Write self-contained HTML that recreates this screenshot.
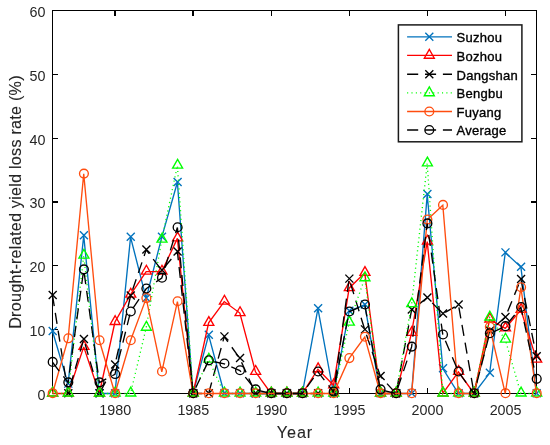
<!DOCTYPE html><html><head><meta charset="utf-8"><style>html,body{margin:0;padding:0;background:#fff;}svg{display:block;}text{font-family:"Liberation Sans",Arial,sans-serif;}</style></head><body>
<svg width="550" height="445" viewBox="0 0 550 445">
<rect width="550" height="445" fill="#fff"/>
<g stroke="#000" stroke-width="1.15" fill="none" shape-rendering="crispEdges">
<rect x="52.50" y="10.50" width="484.00" height="383.00"/>
<path d="M114.95 393.50V388.20M114.95 10.50V15.80"/>
<path d="M193.02 393.50V388.20M193.02 10.50V15.80"/>
<path d="M271.08 393.50V388.20M271.08 10.50V15.80"/>
<path d="M349.15 393.50V388.20M349.15 10.50V15.80"/>
<path d="M427.21 393.50V388.20M427.21 10.50V15.80"/>
<path d="M505.27 393.50V388.20M505.27 10.50V15.80"/>
<path d="M52.50 393.50H57.80M536.50 393.50H531.20"/>
<path d="M52.50 329.67H57.80M536.50 329.67H531.20"/>
<path d="M52.50 265.83H57.80M536.50 265.83H531.20"/>
<path d="M52.50 202.00H57.80M536.50 202.00H531.20"/>
<path d="M52.50 138.17H57.80M536.50 138.17H531.20"/>
<path d="M52.50 74.33H57.80M536.50 74.33H531.20"/>
<path d="M52.50 10.50H57.80M536.50 10.50H531.20"/>
</g>
<polyline points="52.50,331.26 68.11,383.93 83.73,235.51 99.34,393.50 114.95,393.50 130.56,237.11 146.18,298.39 161.79,237.11 177.40,182.21 193.02,393.50 208.63,335.09 224.24,393.50 239.85,393.50 255.47,393.50 271.08,393.50 286.69,393.50 302.31,393.50 317.92,308.60 333.53,393.50 349.15,311.15 364.76,304.77 380.37,393.50 395.98,393.50 411.60,393.50 427.21,194.34 442.82,368.61 458.44,393.50 474.05,393.50 489.66,373.07 505.27,252.68 520.89,267.11 536.50,393.50" fill="none" stroke="#0072BD" stroke-width="1.35" stroke-linejoin="miter" stroke-miterlimit="3"/>
<g fill="none" stroke-width="1.35" stroke-linejoin="miter">
<path d="M48.70 326.96L56.70 334.96M48.70 334.96L56.70 326.96" stroke="#0072BD"/>
<path d="M64.31 379.62L72.31 387.62M64.31 387.62L72.31 379.62" stroke="#0072BD"/>
<path d="M79.93 231.21L87.93 239.21M79.93 239.21L87.93 231.21" stroke="#0072BD"/>
<path d="M95.54 389.20L103.54 397.20M95.54 397.20L103.54 389.20" stroke="#0072BD"/>
<path d="M111.15 389.20L119.15 397.20M111.15 397.20L119.15 389.20" stroke="#0072BD"/>
<path d="M126.76 232.81L134.76 240.81M126.76 240.81L134.76 232.81" stroke="#0072BD"/>
<path d="M142.38 294.09L150.38 302.09M142.38 302.09L150.38 294.09" stroke="#0072BD"/>
<path d="M157.99 232.81L165.99 240.81M157.99 240.81L165.99 232.81" stroke="#0072BD"/>
<path d="M173.60 177.91L181.60 185.91M173.60 185.91L181.60 177.91" stroke="#0072BD"/>
<path d="M189.22 389.20L197.22 397.20M189.22 397.20L197.22 389.20" stroke="#0072BD"/>
<path d="M204.83 330.79L212.83 338.79M204.83 338.79L212.83 330.79" stroke="#0072BD"/>
<path d="M220.44 389.20L228.44 397.20M220.44 397.20L228.44 389.20" stroke="#0072BD"/>
<path d="M236.05 389.20L244.05 397.20M236.05 397.20L244.05 389.20" stroke="#0072BD"/>
<path d="M251.67 389.20L259.67 397.20M251.67 397.20L259.67 389.20" stroke="#0072BD"/>
<path d="M267.28 389.20L275.28 397.20M267.28 397.20L275.28 389.20" stroke="#0072BD"/>
<path d="M282.89 389.20L290.89 397.20M282.89 397.20L290.89 389.20" stroke="#0072BD"/>
<path d="M298.51 389.20L306.51 397.20M298.51 397.20L306.51 389.20" stroke="#0072BD"/>
<path d="M314.12 304.30L322.12 312.30M314.12 312.30L322.12 304.30" stroke="#0072BD"/>
<path d="M329.73 389.20L337.73 397.20M329.73 397.20L337.73 389.20" stroke="#0072BD"/>
<path d="M345.35 306.85L353.35 314.85M345.35 314.85L353.35 306.85" stroke="#0072BD"/>
<path d="M360.96 300.47L368.96 308.47M360.96 308.47L368.96 300.47" stroke="#0072BD"/>
<path d="M376.57 389.20L384.57 397.20M376.57 397.20L384.57 389.20" stroke="#0072BD"/>
<path d="M392.18 389.20L400.18 397.20M392.18 397.20L400.18 389.20" stroke="#0072BD"/>
<path d="M407.80 389.20L415.80 397.20M407.80 397.20L415.80 389.20" stroke="#0072BD"/>
<path d="M423.41 190.04L431.41 198.04M423.41 198.04L431.41 190.04" stroke="#0072BD"/>
<path d="M439.02 364.31L447.02 372.31M439.02 372.31L447.02 364.31" stroke="#0072BD"/>
<path d="M454.64 389.20L462.64 397.20M454.64 397.20L462.64 389.20" stroke="#0072BD"/>
<path d="M470.25 389.20L478.25 397.20M470.25 397.20L478.25 389.20" stroke="#0072BD"/>
<path d="M485.86 368.77L493.86 376.77M485.86 376.77L493.86 368.77" stroke="#0072BD"/>
<path d="M501.47 248.38L509.47 256.38M501.47 256.38L509.47 248.38" stroke="#0072BD"/>
<path d="M517.09 262.81L525.09 270.81M517.09 270.81L525.09 262.81" stroke="#0072BD"/>
<path d="M532.70 389.20L540.70 397.20M532.70 397.20L540.70 389.20" stroke="#0072BD"/>
</g>
<polyline points="52.50,393.50 68.11,393.50 83.73,346.90 99.34,393.50 114.95,322.01 130.56,294.56 146.18,271.58 161.79,271.58 177.40,238.39 193.02,393.50 208.63,322.90 224.24,301.58 239.85,313.07 255.47,371.80 271.08,393.50 286.69,393.50 302.31,393.50 317.92,369.24 333.53,385.20 349.15,288.18 364.76,272.86 380.37,393.50 395.98,393.50 411.60,332.86 427.21,241.58 442.82,393.50 458.44,371.80 474.05,393.50 489.66,319.45 505.27,328.39 520.89,309.88 536.50,359.67" fill="none" stroke="#FF0000" stroke-width="1.35" stroke-linejoin="miter" stroke-miterlimit="3"/>
<g fill="none" stroke-width="1.35" stroke-linejoin="miter">
<path d="M52.70 387.20L57.70 396.00L47.70 396.00Z" stroke="#FF0000"/>
<path d="M68.31 387.20L73.31 396.00L63.31 396.00Z" stroke="#FF0000"/>
<path d="M83.93 340.60L88.93 349.40L78.93 349.40Z" stroke="#FF0000"/>
<path d="M99.54 387.20L104.54 396.00L94.54 396.00Z" stroke="#FF0000"/>
<path d="M115.15 315.71L120.15 324.51L110.15 324.51Z" stroke="#FF0000"/>
<path d="M130.76 288.26L135.76 297.06L125.76 297.06Z" stroke="#FF0000"/>
<path d="M146.38 265.28L151.38 274.08L141.38 274.08Z" stroke="#FF0000"/>
<path d="M161.99 265.28L166.99 274.08L156.99 274.08Z" stroke="#FF0000"/>
<path d="M177.60 232.09L182.60 240.89L172.60 240.89Z" stroke="#FF0000"/>
<path d="M193.22 387.20L198.22 396.00L188.22 396.00Z" stroke="#FF0000"/>
<path d="M208.83 316.60L213.83 325.40L203.83 325.40Z" stroke="#FF0000"/>
<path d="M224.44 295.28L229.44 304.08L219.44 304.08Z" stroke="#FF0000"/>
<path d="M240.05 306.77L245.05 315.57L235.05 315.57Z" stroke="#FF0000"/>
<path d="M255.67 365.50L260.67 374.30L250.67 374.30Z" stroke="#FF0000"/>
<path d="M271.28 387.20L276.28 396.00L266.28 396.00Z" stroke="#FF0000"/>
<path d="M286.89 387.20L291.89 396.00L281.89 396.00Z" stroke="#FF0000"/>
<path d="M302.51 387.20L307.51 396.00L297.51 396.00Z" stroke="#FF0000"/>
<path d="M318.12 362.94L323.12 371.74L313.12 371.74Z" stroke="#FF0000"/>
<path d="M333.73 378.90L338.73 387.70L328.73 387.70Z" stroke="#FF0000"/>
<path d="M349.35 281.88L354.35 290.68L344.35 290.68Z" stroke="#FF0000"/>
<path d="M364.96 266.56L369.96 275.36L359.96 275.36Z" stroke="#FF0000"/>
<path d="M380.57 387.20L385.57 396.00L375.57 396.00Z" stroke="#FF0000"/>
<path d="M396.18 387.20L401.18 396.00L391.18 396.00Z" stroke="#FF0000"/>
<path d="M411.80 326.56L416.80 335.36L406.80 335.36Z" stroke="#FF0000"/>
<path d="M427.41 235.28L432.41 244.08L422.41 244.08Z" stroke="#FF0000"/>
<path d="M443.02 387.20L448.02 396.00L438.02 396.00Z" stroke="#FF0000"/>
<path d="M458.64 365.50L463.64 374.30L453.64 374.30Z" stroke="#FF0000"/>
<path d="M474.25 387.20L479.25 396.00L469.25 396.00Z" stroke="#FF0000"/>
<path d="M489.86 313.15L494.86 321.95L484.86 321.95Z" stroke="#FF0000"/>
<path d="M505.47 322.09L510.47 330.89L500.47 330.89Z" stroke="#FF0000"/>
<path d="M521.09 303.58L526.09 312.38L516.09 312.38Z" stroke="#FF0000"/>
<path d="M536.70 353.37L541.70 362.17L531.70 362.17Z" stroke="#FF0000"/>
</g>
<polyline points="52.50,295.20 68.11,393.50 83.73,339.24 99.34,393.50 114.95,364.77 130.56,295.83 146.18,249.88 161.79,270.30 177.40,251.79 193.02,393.50 208.63,393.50 224.24,336.69 239.85,358.39 255.47,393.50 271.08,393.50 286.69,393.50 302.31,393.50 317.92,393.50 333.53,393.50 349.15,278.92 364.76,329.67 380.37,376.26 395.98,393.50 411.60,309.88 427.21,297.75 442.82,313.71 458.44,304.77 474.05,393.50 489.66,330.94 505.27,317.22 520.89,279.24 536.50,356.48" fill="none" stroke="#000000" stroke-width="1.35" stroke-dasharray="11.1 6.8" stroke-linejoin="miter" stroke-miterlimit="3"/>
<g fill="none" stroke-width="1.35" stroke-linejoin="miter">
<path d="M48.70 290.90L56.70 298.90M48.70 298.90L56.70 290.90" stroke="#000000"/>
<path d="M64.31 389.20L72.31 397.20M64.31 397.20L72.31 389.20" stroke="#000000"/>
<path d="M79.93 334.94L87.93 342.94M79.93 342.94L87.93 334.94" stroke="#000000"/>
<path d="M95.54 389.20L103.54 397.20M95.54 397.20L103.54 389.20" stroke="#000000"/>
<path d="M111.15 360.47L119.15 368.47M111.15 368.47L119.15 360.47" stroke="#000000"/>
<path d="M126.76 291.53L134.76 299.53M126.76 299.53L134.76 291.53" stroke="#000000"/>
<path d="M142.38 245.57L150.38 253.57M142.38 253.57L150.38 245.57" stroke="#000000"/>
<path d="M157.99 266.00L165.99 274.00M157.99 274.00L165.99 266.00" stroke="#000000"/>
<path d="M173.60 247.49L181.60 255.49M173.60 255.49L181.60 247.49" stroke="#000000"/>
<path d="M189.22 389.20L197.22 397.20M189.22 397.20L197.22 389.20" stroke="#000000"/>
<path d="M204.83 389.20L212.83 397.20M204.83 397.20L212.83 389.20" stroke="#000000"/>
<path d="M220.44 332.39L228.44 340.39M220.44 340.39L228.44 332.39" stroke="#000000"/>
<path d="M236.05 354.09L244.05 362.09M236.05 362.09L244.05 354.09" stroke="#000000"/>
<path d="M251.67 389.20L259.67 397.20M251.67 397.20L259.67 389.20" stroke="#000000"/>
<path d="M267.28 389.20L275.28 397.20M267.28 397.20L275.28 389.20" stroke="#000000"/>
<path d="M282.89 389.20L290.89 397.20M282.89 397.20L290.89 389.20" stroke="#000000"/>
<path d="M298.51 389.20L306.51 397.20M298.51 397.20L306.51 389.20" stroke="#000000"/>
<path d="M314.12 389.20L322.12 397.20M314.12 397.20L322.12 389.20" stroke="#000000"/>
<path d="M329.73 389.20L337.73 397.20M329.73 397.20L337.73 389.20" stroke="#000000"/>
<path d="M345.35 274.62L353.35 282.62M345.35 282.62L353.35 274.62" stroke="#000000"/>
<path d="M360.96 325.37L368.96 333.37M360.96 333.37L368.96 325.37" stroke="#000000"/>
<path d="M376.57 371.96L384.57 379.96M376.57 379.96L384.57 371.96" stroke="#000000"/>
<path d="M392.18 389.20L400.18 397.20M392.18 397.20L400.18 389.20" stroke="#000000"/>
<path d="M407.80 305.58L415.80 313.58M407.80 313.58L415.80 305.58" stroke="#000000"/>
<path d="M423.41 293.45L431.41 301.45M423.41 301.45L431.41 293.45" stroke="#000000"/>
<path d="M439.02 309.41L447.02 317.41M439.02 317.41L447.02 309.41" stroke="#000000"/>
<path d="M454.64 300.47L462.64 308.47M454.64 308.47L462.64 300.47" stroke="#000000"/>
<path d="M470.25 389.20L478.25 397.20M470.25 397.20L478.25 389.20" stroke="#000000"/>
<path d="M485.86 326.64L493.86 334.64M485.86 334.64L493.86 326.64" stroke="#000000"/>
<path d="M501.47 312.92L509.47 320.92M501.47 320.92L509.47 312.92" stroke="#000000"/>
<path d="M517.09 274.94L525.09 282.94M517.09 282.94L525.09 274.94" stroke="#000000"/>
<path d="M532.70 352.18L540.70 360.18M532.70 360.18L540.70 352.18" stroke="#000000"/>
</g>
<polyline points="52.50,393.50 68.11,393.50 83.73,255.62 99.34,393.50 114.95,393.50 130.56,393.50 146.18,327.75 161.79,239.66 177.40,165.61 193.02,393.50 208.63,359.67 224.24,393.50 239.85,393.50 255.47,393.50 271.08,393.50 286.69,393.50 302.31,393.50 317.92,393.50 333.53,393.50 349.15,322.64 364.76,278.22 380.37,393.50 395.98,393.50 411.60,304.13 427.21,163.38 442.82,393.50 458.44,393.50 474.05,393.50 489.66,317.54 505.27,339.56 520.89,393.50 536.50,393.50" fill="none" stroke="#00FF00" stroke-width="1.35" stroke-dasharray="1.1 3.26" stroke-linejoin="miter" stroke-miterlimit="3"/>
<g fill="none" stroke-width="1.35" stroke-linejoin="miter">
<path d="M52.70 387.20L57.70 396.00L47.70 396.00Z" stroke="#00FF00"/>
<path d="M68.31 387.20L73.31 396.00L63.31 396.00Z" stroke="#00FF00"/>
<path d="M83.93 249.32L88.93 258.12L78.93 258.12Z" stroke="#00FF00"/>
<path d="M99.54 387.20L104.54 396.00L94.54 396.00Z" stroke="#00FF00"/>
<path d="M115.15 387.20L120.15 396.00L110.15 396.00Z" stroke="#00FF00"/>
<path d="M130.76 387.20L135.76 396.00L125.76 396.00Z" stroke="#00FF00"/>
<path d="M146.38 321.45L151.38 330.25L141.38 330.25Z" stroke="#00FF00"/>
<path d="M161.99 233.36L166.99 242.16L156.99 242.16Z" stroke="#00FF00"/>
<path d="M177.60 159.31L182.60 168.11L172.60 168.11Z" stroke="#00FF00"/>
<path d="M193.22 387.20L198.22 396.00L188.22 396.00Z" stroke="#00FF00"/>
<path d="M208.83 353.37L213.83 362.17L203.83 362.17Z" stroke="#00FF00"/>
<path d="M224.44 387.20L229.44 396.00L219.44 396.00Z" stroke="#00FF00"/>
<path d="M240.05 387.20L245.05 396.00L235.05 396.00Z" stroke="#00FF00"/>
<path d="M255.67 387.20L260.67 396.00L250.67 396.00Z" stroke="#00FF00"/>
<path d="M271.28 387.20L276.28 396.00L266.28 396.00Z" stroke="#00FF00"/>
<path d="M286.89 387.20L291.89 396.00L281.89 396.00Z" stroke="#00FF00"/>
<path d="M302.51 387.20L307.51 396.00L297.51 396.00Z" stroke="#00FF00"/>
<path d="M318.12 387.20L323.12 396.00L313.12 396.00Z" stroke="#00FF00"/>
<path d="M333.73 387.20L338.73 396.00L328.73 396.00Z" stroke="#00FF00"/>
<path d="M349.35 316.34L354.35 325.14L344.35 325.14Z" stroke="#00FF00"/>
<path d="M364.96 271.92L369.96 280.72L359.96 280.72Z" stroke="#00FF00"/>
<path d="M380.57 387.20L385.57 396.00L375.57 396.00Z" stroke="#00FF00"/>
<path d="M396.18 387.20L401.18 396.00L391.18 396.00Z" stroke="#00FF00"/>
<path d="M411.80 297.83L416.80 306.63L406.80 306.63Z" stroke="#00FF00"/>
<path d="M427.41 157.08L432.41 165.88L422.41 165.88Z" stroke="#00FF00"/>
<path d="M443.02 387.20L448.02 396.00L438.02 396.00Z" stroke="#00FF00"/>
<path d="M458.64 387.20L463.64 396.00L453.64 396.00Z" stroke="#00FF00"/>
<path d="M474.25 387.20L479.25 396.00L469.25 396.00Z" stroke="#00FF00"/>
<path d="M489.86 311.24L494.86 320.04L484.86 320.04Z" stroke="#00FF00"/>
<path d="M505.47 333.26L510.47 342.06L500.47 342.06Z" stroke="#00FF00"/>
<path d="M521.09 387.20L526.09 396.00L516.09 396.00Z" stroke="#00FF00"/>
<path d="M536.70 387.20L541.70 396.00L531.70 396.00Z" stroke="#00FF00"/>
</g>
<polyline points="52.50,393.50 68.11,338.60 83.73,173.91 99.34,340.52 114.95,393.50 130.56,340.52 146.18,298.39 161.79,371.80 177.40,301.58 193.02,393.50 208.63,393.50 224.24,393.50 239.85,393.50 255.47,393.50 271.08,393.50 286.69,393.50 302.31,393.50 317.92,393.50 333.53,393.50 349.15,358.39 364.76,337.01 380.37,393.50 395.98,393.50 411.60,393.50 427.21,219.87 442.82,205.19 458.44,393.50 474.05,393.50 489.66,327.11 505.27,393.50 520.89,287.54 536.50,393.50" fill="none" stroke="#FF4D0F" stroke-width="1.35" stroke-linejoin="miter" stroke-miterlimit="3"/>
<g fill="none" stroke-width="1.35" stroke-linejoin="miter">
<circle cx="52.70" cy="393.20" r="4.40" stroke="#FF4D0F"/>
<circle cx="68.31" cy="338.30" r="4.40" stroke="#FF4D0F"/>
<circle cx="83.93" cy="173.61" r="4.40" stroke="#FF4D0F"/>
<circle cx="99.54" cy="340.22" r="4.40" stroke="#FF4D0F"/>
<circle cx="115.15" cy="393.20" r="4.40" stroke="#FF4D0F"/>
<circle cx="130.76" cy="340.22" r="4.40" stroke="#FF4D0F"/>
<circle cx="146.38" cy="298.09" r="4.40" stroke="#FF4D0F"/>
<circle cx="161.99" cy="371.50" r="4.40" stroke="#FF4D0F"/>
<circle cx="177.60" cy="301.28" r="4.40" stroke="#FF4D0F"/>
<circle cx="193.22" cy="393.20" r="4.40" stroke="#FF4D0F"/>
<circle cx="208.83" cy="393.20" r="4.40" stroke="#FF4D0F"/>
<circle cx="224.44" cy="393.20" r="4.40" stroke="#FF4D0F"/>
<circle cx="240.05" cy="393.20" r="4.40" stroke="#FF4D0F"/>
<circle cx="255.67" cy="393.20" r="4.40" stroke="#FF4D0F"/>
<circle cx="271.28" cy="393.20" r="4.40" stroke="#FF4D0F"/>
<circle cx="286.89" cy="393.20" r="4.40" stroke="#FF4D0F"/>
<circle cx="302.51" cy="393.20" r="4.40" stroke="#FF4D0F"/>
<circle cx="318.12" cy="393.20" r="4.40" stroke="#FF4D0F"/>
<circle cx="333.73" cy="393.20" r="4.40" stroke="#FF4D0F"/>
<circle cx="349.35" cy="358.09" r="4.40" stroke="#FF4D0F"/>
<circle cx="364.96" cy="336.71" r="4.40" stroke="#FF4D0F"/>
<circle cx="380.57" cy="393.20" r="4.40" stroke="#FF4D0F"/>
<circle cx="396.18" cy="393.20" r="4.40" stroke="#FF4D0F"/>
<circle cx="411.80" cy="393.20" r="4.40" stroke="#FF4D0F"/>
<circle cx="427.41" cy="219.57" r="4.40" stroke="#FF4D0F"/>
<circle cx="443.02" cy="204.89" r="4.40" stroke="#FF4D0F"/>
<circle cx="458.64" cy="393.20" r="4.40" stroke="#FF4D0F"/>
<circle cx="474.25" cy="393.20" r="4.40" stroke="#FF4D0F"/>
<circle cx="489.86" cy="326.81" r="4.40" stroke="#FF4D0F"/>
<circle cx="505.47" cy="393.20" r="4.40" stroke="#FF4D0F"/>
<circle cx="521.09" cy="287.24" r="4.40" stroke="#FF4D0F"/>
<circle cx="536.70" cy="393.20" r="4.40" stroke="#FF4D0F"/>
</g>
<polyline points="52.50,362.22 68.11,382.65 83.73,269.66 99.34,382.65 114.95,374.35 130.56,311.79 146.18,288.81 161.79,277.96 177.40,227.53 193.02,393.50 208.63,360.63 224.24,363.82 239.85,370.52 255.47,389.67 271.08,393.50 286.69,393.50 302.31,393.50 317.92,371.80 333.53,391.78 349.15,311.79 364.76,304.77 380.37,389.67 395.98,393.50 411.60,346.90 427.21,223.70 442.82,334.77 458.44,371.80 474.05,393.50 489.66,333.50 505.27,326.48 520.89,307.32 536.50,379.14" fill="none" stroke="#000000" stroke-width="1.35" stroke-dasharray="11.1 6.8" stroke-linejoin="miter" stroke-miterlimit="3"/>
<g fill="none" stroke-width="1.35" stroke-linejoin="miter">
<circle cx="52.70" cy="361.92" r="4.40" stroke="#000000"/>
<circle cx="68.31" cy="382.35" r="4.40" stroke="#000000"/>
<circle cx="83.93" cy="269.36" r="4.40" stroke="#000000"/>
<circle cx="99.54" cy="382.35" r="4.40" stroke="#000000"/>
<circle cx="115.15" cy="374.05" r="4.40" stroke="#000000"/>
<circle cx="130.76" cy="311.49" r="4.40" stroke="#000000"/>
<circle cx="146.38" cy="288.51" r="4.40" stroke="#000000"/>
<circle cx="161.99" cy="277.66" r="4.40" stroke="#000000"/>
<circle cx="177.60" cy="227.23" r="4.40" stroke="#000000"/>
<circle cx="193.22" cy="393.20" r="4.40" stroke="#000000"/>
<circle cx="208.83" cy="360.33" r="4.40" stroke="#000000"/>
<circle cx="224.44" cy="363.52" r="4.40" stroke="#000000"/>
<circle cx="240.05" cy="370.22" r="4.40" stroke="#000000"/>
<circle cx="255.67" cy="389.37" r="4.40" stroke="#000000"/>
<circle cx="271.28" cy="393.20" r="4.40" stroke="#000000"/>
<circle cx="286.89" cy="393.20" r="4.40" stroke="#000000"/>
<circle cx="302.51" cy="393.20" r="4.40" stroke="#000000"/>
<circle cx="318.12" cy="371.50" r="4.40" stroke="#000000"/>
<circle cx="333.73" cy="391.48" r="4.40" stroke="#000000"/>
<circle cx="349.35" cy="311.49" r="4.40" stroke="#000000"/>
<circle cx="364.96" cy="304.47" r="4.40" stroke="#000000"/>
<circle cx="380.57" cy="389.37" r="4.40" stroke="#000000"/>
<circle cx="396.18" cy="393.20" r="4.40" stroke="#000000"/>
<circle cx="411.80" cy="346.60" r="4.40" stroke="#000000"/>
<circle cx="427.41" cy="223.40" r="4.40" stroke="#000000"/>
<circle cx="443.02" cy="334.47" r="4.40" stroke="#000000"/>
<circle cx="458.64" cy="371.50" r="4.40" stroke="#000000"/>
<circle cx="474.25" cy="393.20" r="4.40" stroke="#000000"/>
<circle cx="489.86" cy="333.20" r="4.40" stroke="#000000"/>
<circle cx="505.47" cy="326.18" r="4.40" stroke="#000000"/>
<circle cx="521.09" cy="307.02" r="4.40" stroke="#000000"/>
<circle cx="536.70" cy="378.84" r="4.40" stroke="#000000"/>
</g>
<g fill="#262626" stroke="#262626" stroke-width="0" font-size="15.00">
<text x="115.25" y="414.80" text-anchor="middle" textLength="31.87" lengthAdjust="spacingAndGlyphs">1980</text>
<text x="193.32" y="414.80" text-anchor="middle" textLength="31.87" lengthAdjust="spacingAndGlyphs">1985</text>
<text x="271.38" y="414.80" text-anchor="middle" textLength="31.87" lengthAdjust="spacingAndGlyphs">1990</text>
<text x="349.45" y="414.80" text-anchor="middle" textLength="31.87" lengthAdjust="spacingAndGlyphs">1995</text>
<text x="427.51" y="414.80" text-anchor="middle" textLength="31.87" lengthAdjust="spacingAndGlyphs">2000</text>
<text x="505.57" y="414.80" text-anchor="middle" textLength="31.87" lengthAdjust="spacingAndGlyphs">2005</text>
<text x="45.40" y="399.90" text-anchor="end" textLength="7.97" lengthAdjust="spacingAndGlyphs">0</text>
<text x="45.40" y="336.07" text-anchor="end" textLength="15.93" lengthAdjust="spacingAndGlyphs">10</text>
<text x="45.40" y="272.23" text-anchor="end" textLength="15.93" lengthAdjust="spacingAndGlyphs">20</text>
<text x="45.40" y="208.40" text-anchor="end" textLength="15.93" lengthAdjust="spacingAndGlyphs">30</text>
<text x="45.40" y="144.57" text-anchor="end" textLength="15.93" lengthAdjust="spacingAndGlyphs">40</text>
<text x="45.40" y="80.73" text-anchor="end" textLength="15.93" lengthAdjust="spacingAndGlyphs">50</text>
<text x="45.40" y="16.90" text-anchor="end" textLength="15.93" lengthAdjust="spacingAndGlyphs">60</text>
</g>
<text x="294.50" y="437.80" font-size="16.20" fill="#262626" stroke="#262626" stroke-width="0.1" text-anchor="middle" textLength="35.50" lengthAdjust="spacing">Year</text>
<text transform="translate(21.30 202.10) rotate(-90)" font-size="16.20" fill="#262626" stroke="#262626" stroke-width="0.1" text-anchor="middle" textLength="253.50" lengthAdjust="spacing">Drought-related yield loss rate (%)</text>
<rect x="398.40" y="24.90" width="123.50" height="116.90" fill="#fff" stroke="#1a1a1a" stroke-width="1.5"/>
<path d="M407.1 36.80H452.0" stroke="#0072BD" stroke-width="1.35" fill="none"/>
<g fill="none" stroke-width="1.35"><path d="M425.30 32.80L433.30 40.80M425.30 40.80L433.30 32.80" stroke="#0072BD"/></g>
<text x="456.6" y="42.20" font-size="13.00" fill="#000" stroke="#000" stroke-width="0.35" textLength="45.41" lengthAdjust="spacing">Suzhou</text>
<path d="M407.1 55.40H452.0" stroke="#FF0000" stroke-width="1.35" fill="none"/>
<g fill="none" stroke-width="1.35"><path d="M429.30 49.40L434.30 58.20L424.30 58.20Z" stroke="#FF0000"/></g>
<text x="456.6" y="60.80" font-size="13.00" fill="#000" stroke="#000" stroke-width="0.35" textLength="45.41" lengthAdjust="spacing">Bozhou</text>
<path d="M407.1 74.20H452.0" stroke="#000000" stroke-width="1.35" stroke-dasharray="11.1 6.8" fill="none"/>
<g fill="none" stroke-width="1.35"><path d="M425.30 70.20L433.30 78.20M425.30 78.20L433.30 70.20" stroke="#000000"/></g>
<text x="456.6" y="79.60" font-size="13.00" fill="#000" stroke="#000" stroke-width="0.35" textLength="61.05" lengthAdjust="spacing">Dangshan</text>
<path d="M407.1 92.90H452.0" stroke="#00FF00" stroke-width="1.35" stroke-dasharray="1.1 3.26" fill="none"/>
<g fill="none" stroke-width="1.35"><path d="M429.30 86.90L434.30 95.70L424.30 95.70Z" stroke="#00FF00"/></g>
<text x="456.6" y="98.30" font-size="13.00" fill="#000" stroke="#000" stroke-width="0.35" textLength="46.17" lengthAdjust="spacing">Bengbu</text>
<path d="M407.1 111.50H452.0" stroke="#FF4D0F" stroke-width="1.35" fill="none"/>
<g fill="none" stroke-width="1.35"><circle cx="429.30" cy="111.50" r="4.40" stroke="#FF4D0F"/></g>
<text x="456.6" y="116.90" font-size="13.00" fill="#000" stroke="#000" stroke-width="0.35" textLength="44.66" lengthAdjust="spacing">Fuyang</text>
<path d="M407.1 130.00H452.0" stroke="#000000" stroke-width="1.35" stroke-dasharray="11.1 6.8" fill="none"/>
<g fill="none" stroke-width="1.35"><circle cx="429.30" cy="130.00" r="4.40" stroke="#000000"/></g>
<text x="456.6" y="135.40" font-size="13.00" fill="#000" stroke="#000" stroke-width="0.35" textLength="49.63" lengthAdjust="spacing">Average</text>
</svg></body></html>
